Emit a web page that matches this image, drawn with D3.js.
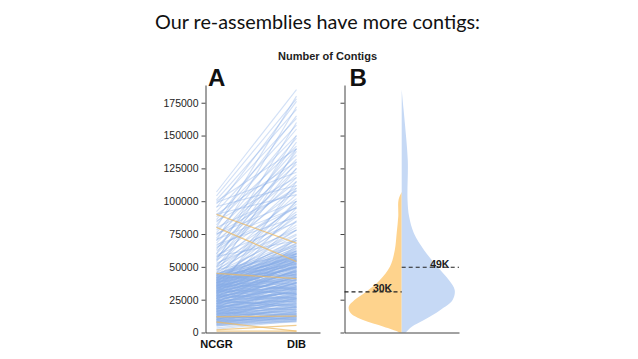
<!DOCTYPE html>
<html><head><meta charset="utf-8">
<script src="https://cdn.jsdelivr.net/npm/d3@7"></script>
<style>body{margin:0;background:#fff}svg{display:block}</style>
</head><body>
<svg id="c" width="638" height="359"></svg>
<script>
// ---------- DATA ----------
const slideTitle = "Our re-assemblies have more contigs:";
const chartTitle = "Number of Contigs";
const categories = ["NCGR", "DIB"];
const yTicks = [0, 25000, 50000, 75000, 100000, 125000, 150000, 175000];

// Panel A: per-assembly contig counts (thousands). Large assemblies (blue)
const bigNcgrK = [107,104,101,99,98,96,95,92,90,88,86,85,84,82,80,78,76,75,74,72,71,70,68,67,66,64,63,62,60,59,58,57,56,55,54,53,52,51,50,49,48,47,46,45,44,43,42,41,40,39,38,37,36,35,34,33,32,31,30,28,26,24,22,20,18,60,70,55,45,50,40,35,38,65,75,80,90,58,48,100];
const bigDibK  = [185,178,170,122,163,112,176,158,130,150,165,118,142,155,108,135,148,100,128,140,95,120,132,88,115,125,145,108,118,84,102,112,138,96,130,78,90,105,85,98,80,92,75,88,70,100,66,82,62,78,58,72,55,68,52,64,50,60,115,95,85,72,66,60,55,160,172,150,140,125,110,100,90,95,110,180,105,70,60,140];

// Panel A: bulk of assemblies (blue, thousands)
const bulkNcgrK = [
5.5,6,6.5,7,7.5,8,8.5,9,9.5,10,10.5,11,11.5,12,12.5,13,13.5,14,14.5,15,15.5,16,16.5,17,17.5,18,18.5,19,19.5,20,20.5,21,21.5,22,22.5,23,23.5,24,24.5,25,25.5,26,26.5,27,27.5,28,28.5,29,29.5,30,30.5,31,31.5,32,32.5,33,33.5,34,34.5,35,35.5,36,36.5,37,37.5,38,38.5,39,39.5,40,40.5,41,41.5,42,42.5,43,43.5,44,44.5,45,
6.2,7.2,8.2,9.2,10.2,11.2,12.2,13.2,14.2,15.2,16.2,17.2,18.2,19.2,20.2,21.2,22.2,23.2,24.2,25.2,26.2,27.2,28.2,29.2,30.2,31.2,32.2,33.2,34.2,35.2,36.2,37.2,38.2,39.2,40.2,41.2,42.2,43.2,44.2,
5.2,5.8,6.8,7.8,8.8,9.8,10.8,12.8,14.8,16.8,18.8,20.8,22.8,24.8,26.8,28.8,30.8,32.8,34.8,36.8,38.8,
4.8,11.6,13.7,15.9,17.7,19.6,21.7,23.6,25.7,27.6,29.7,31.6,33.6,35.7,37.6,41.7,3.5,2.5,
7.4,8.6,9.4,10.6,11.4,12.6,13.4,14.6,15.4,16.6,17.4,18.6,19.4,20.6,21.4,22.6,23.4,24.6,25.4,26.6,27.4,28.6,29.4,30.6,31.4,32.6,33.4,34.6,35.4,36.6,37.4,38.6,39.4,40.6,41.4,42.6,43.4,44.6,
9.9,11.9,13.9,15.9,17.9,19.9,21.9,23.9,25.9,27.9,29.9,31.9,33.9,35.9,37.9,39.9,41.9,43.9,
8.1,10.1,12.1,14.1,16.1,18.1,20.1,22.1,24.1,26.1,28.1,30.1,32.1,34.1,36.1,38.1,40.1,42.1];
const bulkDibK = [
9,12,8.5,14,10,16,11,19,13,22,15,12,24,17,28,14,20,31,18,26,21,35,19,24,38,23,30,27,41,25,33,29,45,28,36,31,48,30,39,34,52,33,42,37,55,36,45,40,58,39,47,43,62,41,50,46,56,44,53,49,60,47,57,52,65,50,59,54,70,53,61,57,74,56,64,60,78,58,67,62,
16,9,20,11,13,18,10,23,16,12,22,27,15,32,21,37,24,43,27,19,30,47,33,25,35,51,38,29,42,54,40,33,46,62,48,44,52,68,50,
8,10.5,11.5,13,14.5,9.5,17,19.5,22.5,25.5,28.5,31.5,34.5,37.5,40.5,43.5,46.5,49.5,52.5,55.5,58.5,
12.5,26,29,33,35,38,40,43,45,47,49,51,53,54,56,57,10,9,
15,12,18,14,21,16,25,19,29,22,33,26,36,24,40,31,44,35,48,38,51,42,55,45,34,50,40,53,57,44,60,49,58,63,47,66,55,61,
27,11,30,14,34,17,38,20,42,23,46,26,50,29,54,32,58,36,
10.5,20,25,13.5,28,32,17.5,38,21,42,26,46,30,50,34,56,60,44];

// Panel A: assemblies with fewer contigs in DIB (orange)
const orangeNcgrK = [90, 80, 45, 12, 8, 1, 2];
const orangeDibK  = [68, 54, 41, 12.5, 1, 1, 5.5];

// Panel B: split violin profiles (value in thousands, relative density)
const ncgrViolinK   = [0, 0.6, 4.4, 9.5, 14.6, 19.7, 24.8, 31.1, 40, 50.2, 62.9, 75.6, 88.3, 101, 107];
const ncgrViolinDen = [0.05, 0.07, 0.34, 0.73, 0.96, 1.0, 0.89, 0.67, 0.41, 0.22, 0.13, 0.095, 0.065, 0.06, 0];
const dibViolinK    = [0, 0.6, 4.4, 9.5, 17.2, 24.8, 32.4, 40, 50.2, 62.9, 75.6, 88.3, 101, 131, 157, 170, 185];
const dibViolinDen  = [0.07, 0.09, 0.19, 0.42, 0.73, 0.96, 1.0, 0.89, 0.67, 0.42, 0.23, 0.14, 0.11, 0.115, 0.065, 0.035, 0];
const medianLabels = ["30K", "49K"];
const mediansK = [30.9, 49.7];

// ---------- DRAW ----------
const svg = d3.select("#c");
const K = 1000;
const y = d3.scaleLinear().domain([0, 188500]).range([332.5, 85]);
const xA = d3.scalePoint().domain(categories).range([216.5, 296.5]);
const axisFont = "'Liberation Sans', Arial, sans-serif";

svg.append("text").attr("x", 317.5).attr("y", 29).attr("text-anchor", "middle")
  .attr("font-family", "Lato, 'Open Sans', sans-serif").attr("font-size", 20)
  .attr("textLength", 325).attr("lengthAdjust", "spacingAndGlyphs")
  .attr("fill", "#111").text(slideTitle);

svg.append("text").attr("x", 327.5).attr("y", 60).attr("text-anchor", "middle")
  .attr("font-family", axisFont).attr("font-weight", "bold").attr("font-size", 11)
  .attr("fill", "#222").text(chartTitle);

// Panel A lines
const line = d3.line().x((d, i) => xA(categories[i])).y(d => y(d));
const toPairs = (a, b) => a.map((v, i) => [v * K, b[i] * K]).filter(p => isFinite(p[0]) && isFinite(p[1]));
const blueStyle = sel => sel.attr("d", d => line(d)).attr("fill", "none")
  .attr("stroke", "#8aaee8").attr("stroke-opacity", 0.38).attr("stroke-width", 1.1);
const gA = svg.append("g");
gA.append("g").selectAll("path").data(toPairs(bigNcgrK, bigDibK)).join("path").call(blueStyle);
gA.append("g").selectAll("path").data(toPairs(bulkNcgrK, bulkDibK)).join("path").call(blueStyle);
gA.append("g").selectAll("path").data(toPairs(orangeNcgrK, orangeDibK)).join("path")
  .attr("d", d => line(d)).attr("fill", "none")
  .attr("stroke", "#ebb863").attr("stroke-opacity", 0.72).attr("stroke-width", 1.3);

// Panel A axes
const axA = svg.append("g").attr("transform", "translate(205.5,0)")
  .call(d3.axisLeft(y).tickValues(yTicks).tickFormat(d3.format("d")).tickSize(4).tickPadding(3).tickSizeOuter(0));
axA.select(".domain").attr("stroke", "#444");
axA.selectAll(".tick line").attr("stroke", "#444");
axA.selectAll("text").attr("font-family", axisFont).attr("font-size", 10.5).attr("fill", "#222");
const bxA = svg.append("g").attr("transform", "translate(0,332.5)")
  .call(d3.axisBottom(d3.scaleLinear().range([205.5, 320])).ticks(0).tickSizeOuter(0));
bxA.select(".domain").attr("stroke", "#444");
svg.selectAll("text.cat").data(categories).join("text").attr("class", "cat")
  .attr("x", d => xA(d)).attr("y", 348).attr("text-anchor", "middle")
  .attr("font-family", axisFont).attr("font-weight", "bold").attr("font-size", 11)
  .attr("fill", "#111").text(d => d);

// Panel labels
svg.append("text").attr("x", 208).attr("y", 86).attr("font-family", axisFont)
  .attr("font-weight", "bold").attr("font-size", 24).attr("fill", "#111").text("A");
svg.append("text").attr("x", 349.5).attr("y", 86).attr("font-family", axisFont)
  .attr("font-weight", "bold").attr("font-size", 24).attr("fill", "#111").text("B");

// Panel B violin
const cx = 401.7;
const w = d3.scaleLinear().domain([0, 1]).range([0, 53]);
const left = ncgrViolinK.map((v, i) => [v * K, ncgrViolinDen[i]]);
const right = dibViolinK.map((v, i) => [v * K, dibViolinDen[i]]);
svg.append("path").datum(left)
  .attr("d", d3.area().curve(d3.curveCatmullRom.alpha(0.5)).y(d => y(d[0])).x0(cx).x1(d => cx - w(d[1])))
  .attr("fill", "#fed38d");
svg.append("path").datum(right)
  .attr("d", d3.area().curve(d3.curveCatmullRom.alpha(0.5)).y(d => y(d[0])).x0(cx).x1(d => cx + w(d[1])))
  .attr("fill", "#c6d9f5");

const axB = svg.append("g").attr("transform", "translate(344.5,0)")
  .call(d3.axisLeft(y).tickValues(yTicks).tickSize(4).tickFormat("").tickSizeOuter(0));
axB.select(".domain").attr("stroke", "#444");
axB.selectAll(".tick line").attr("stroke", "#444");
const bxB = svg.append("g").attr("transform", "translate(0,332.5)")
  .call(d3.axisBottom(d3.scaleLinear().range([344.5, 459])).ticks(0).tickSizeOuter(0));
bxB.select(".domain").attr("stroke", "#444");

// medians
svg.append("line").attr("x1", 344.5).attr("x2", cx).attr("y1", y(mediansK[0] * K)).attr("y2", y(mediansK[0] * K))
  .attr("stroke", "#222").attr("stroke-width", 1.2).attr("stroke-dasharray", "4,3");
svg.append("line").attr("x1", cx).attr("x2", 459).attr("y1", y(mediansK[1] * K)).attr("y2", y(mediansK[1] * K))
  .attr("stroke", "#222").attr("stroke-width", 1.2).attr("stroke-dasharray", "4,3");
svg.append("text").attr("x", cx - 9.5).attr("y", y(mediansK[0] * K) + 0.5).attr("text-anchor", "end")
  .attr("font-family", axisFont).attr("font-weight", "bold").attr("font-size", 10.5).attr("fill", "#222").text(medianLabels[0]);
svg.append("text").attr("x", cx + 28.5).attr("y", y(mediansK[1] * K) + 0.5).attr("text-anchor", "start")
  .attr("font-family", axisFont).attr("font-weight", "bold").attr("font-size", 10.5).attr("fill", "#222").text(medianLabels[1]);
</script>
</body></html>
